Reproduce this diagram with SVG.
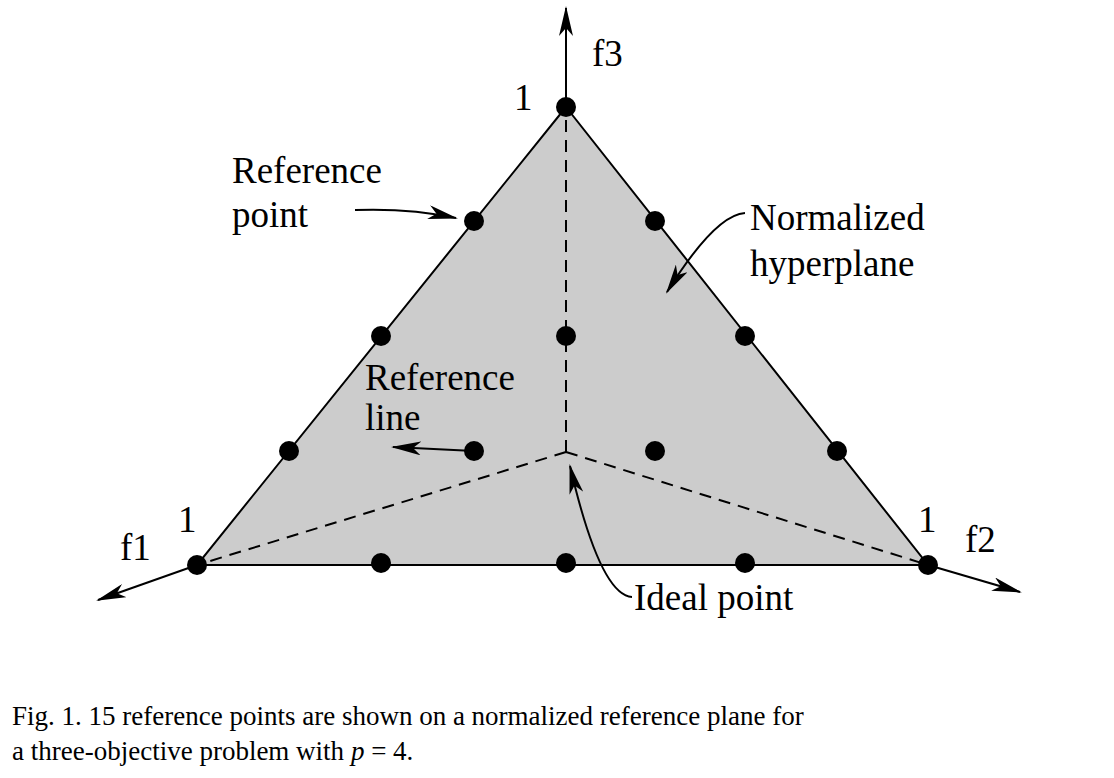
<svg xmlns="http://www.w3.org/2000/svg" width="1114" height="778" viewBox="0 0 1114 778">
<style>
text{font-family:"Liberation Serif",serif;fill:#000}
.l{font-size:37px}
.c{font-size:27px}
.d{stroke:#000;stroke-width:2;stroke-dasharray:12,8;fill:none}
.a{stroke:#000;stroke-width:2;fill:none;marker-end:url(#ah)}
</style>
<defs>
<marker id="ah" markerWidth="30" markerHeight="14" refX="28" refY="7" orient="auto" markerUnits="userSpaceOnUse">
<path d="M0,0 L30,7 L0,14 L8,7 Z" fill="#000"/>
</marker>
</defs>
<rect width="1114" height="778" fill="#fff"/>
<g id="plane"><polygon points="566,107 197,565 928,565" fill="#ccc" stroke="#000" stroke-width="2"/></g>
<g id="connectors">
<path class="d" d="M566,452 L566,107 M566,452 L197,565 M566,452 L928,565"/>
<path class="a" d="M566,107 L566,8"/>
<path class="a" d="M197,565 L98,600"/>
<path class="a" d="M928,565 L1020,592"/>
<path class="a" d="M355,210 Q410,208 456,218"/>
<path class="a" d="M745,213 Q715,215 667,292"/>
<path class="a" d="M474,451 L393,447"/>
<path class="a" d="M632,597 Q600,595 570,466"/>
</g>
<g id="points" fill="#000">
<circle cx="566" cy="107" r="10"/><circle cx="197" cy="565" r="10"/><circle cx="928" cy="565" r="10"/>
<circle cx="289" cy="451" r="10"/><circle cx="381" cy="336" r="10"/><circle cx="474" cy="221" r="10"/>
<circle cx="837" cy="451" r="10"/><circle cx="745" cy="336" r="10"/><circle cx="655" cy="221" r="10"/>
<circle cx="381" cy="563" r="10"/><circle cx="566" cy="563" r="10"/><circle cx="745" cy="563" r="10"/>
<circle cx="566" cy="336" r="10"/><circle cx="474" cy="451" r="10"/><circle cx="655" cy="451" r="10"/>
</g>
<g id="labels">
<text class="l" x="592" y="66">f3</text>
<text class="l" x="514" y="110">1</text>
<text class="l" x="120" y="560">f1</text>
<text class="l" x="178" y="532">1</text>
<text class="l" x="965" y="552">f2</text>
<text class="l" x="918" y="532">1</text>
<text class="l" x="232" y="183">Reference</text>
<text class="l" x="232" y="227">point</text>
<text class="l" x="750" y="230">Normalized</text>
<text class="l" x="750" y="276">hyperplane</text>
<text class="l" x="365" y="390">Reference</text>
<text class="l" x="365" y="430">line</text>
<text class="l" x="634" y="610">Ideal point</text>
<text class="c" x="12" y="725">Fig. 1.    15 reference points are shown on a normalized reference plane for</text>
<text class="c" x="12" y="760">a three-objective problem with <tspan font-style="italic">p</tspan> = 4.</text>
</g>
</svg>
